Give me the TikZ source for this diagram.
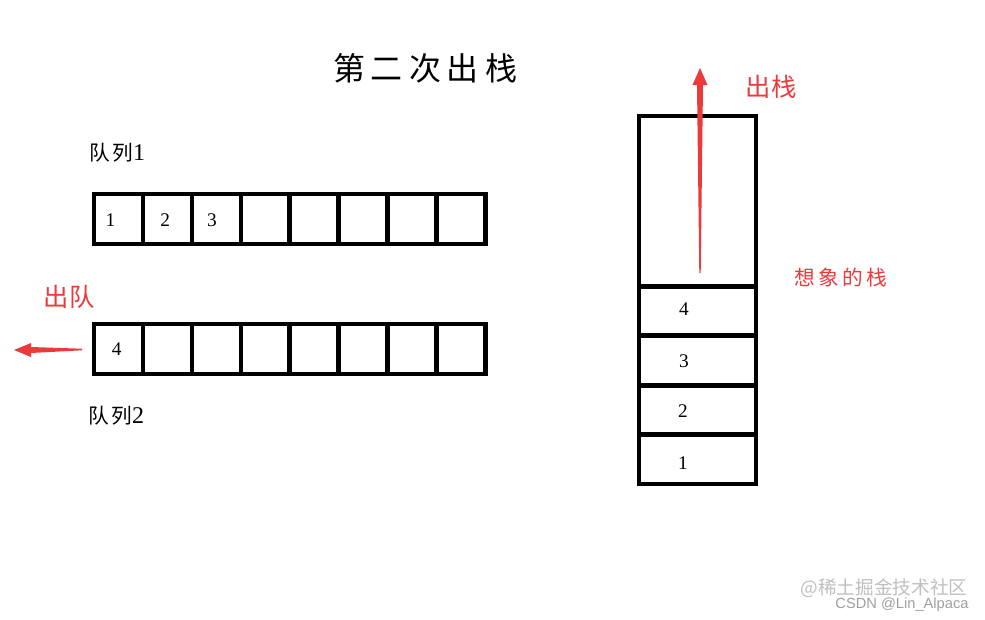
\documentclass[tikz,border=0pt]{standalone}
\usepackage{fontspec}
\setmainfont{Liberation Serif}
\newfontfamily\cjk{Noto Sans CJK SC}
\newfontfamily\wmfont{Liberation Sans}
\usetikzlibrary{positioning,calc}
\definecolor{popred}{RGB}{236,58,58}
\definecolor{markgray}{RGB}{175,175,175}
\tikzset{
  cell/.style={draw, line width=3.4pt, minimum width=36.7pt, minimum height=37.5pt, inner sep=0pt},
  stackcell/.style={draw, line width=3.4pt, minimum width=87.5pt, minimum height=37.1pt, inner sep=0pt},
  num/.style={inner sep=0pt, font=\fontsize{14.5}{14.5}\selectfont},
  redlabel/.style={inner sep=0pt, text=popred, font=\cjk\fontsize{19}{19}\selectfont},
}

\begin{document}
\begin{tikzpicture}[x=0.75pt,y=0.75pt,yscale=-1,xscale=1]
\useasboundingbox (0,0) rectangle (985,619);

% Text Node
\draw (425,68) node (title) {\cjk\fontsize{24}{24}\selectfont 第\kern4.5pt 二\kern4.5pt 次\kern4.5pt 出\kern4.5pt 栈};

% Queue 1
\draw (117,153) node (qalabel) {\cjk\fontsize{15.5}{15.5}\selectfont 队\kern2pt 列{\rmfamily\fontsize{18}{18}\selectfont 1}};
\foreach \i in {1,...,8}
  \node[cell] (qa\i) at ({94+48.94*(\i-0.5)},219) {};
\draw (110.5,220.5) node[num] (qan1) {1};
\draw (165.3,220.5) node[num] (qan2) {2};
\draw (212,220.5) node[num] (qan3) {3};

% Queue 2
\foreach \i in {1,...,8}
  \node[cell] (qb\i) at ({94+48.94*(\i-0.5)},349) {};
\draw (116.7,349.5) node[num] (qbn1) {4};
\draw (116,416) node (qblabel) {\cjk\fontsize{15.5}{15.5}\selectfont 队\kern2pt 列{\rmfamily\fontsize{18}{18}\selectfont 2}};

% Dequeue arrow
\draw (69,297) node[redlabel] (deq) {出队};
\coordinate (poptip) at (14,350);
\coordinate (poptail) at (82,349.5);
\fill[popred] (poptip) -- ($(poptip)+(17,-7)$) -- ($(poptip)+(17,-3)$) -- ($(poptail)+(0,-0.8)$)
  -- ($(poptail)+(0,0.8)$) -- ($(poptip)+(17,3)$) -- ($(poptip)+(17,7)$) -- cycle;

% Stack
\node[stackcell, minimum height=127.5pt] (stop) at (697.5,201) {};
\node[stackcell] (s4) at (697.5,311) {};
\node[stackcell] (s3) at (697.5,360.5) {};
\node[stackcell] (s2) at (697.5,409.8) {};
\node[stackcell] (s1) at (697.5,459.3) {};
\draw (684,309) node[num] (sn4) {4};
\draw (684,361) node[num] (sn3) {3};
\draw (683,411) node[num] (sn2) {2};
\draw (683,463) node[num] (sn1) {1};

% Pop arrow
\coordinate (pushtip) at (700,68);
\coordinate (pushtail) at (700,273);
\fill[popred] (pushtail) ++(-0.7,0) -- ($(pushtip)+(-3,17)$) -- ($(pushtip)+(-7.5,17)$) -- (pushtip)
  -- ($(pushtip)+(7.5,17)$) -- ($(pushtip)+(3,17)$) -- ($(pushtail)+(0.7,0)$) -- cycle;
\draw (771,87) node[redlabel] (pop) {出栈};
\draw (841,278) node[redlabel, font=\cjk\fontsize{15.5}{15.5}\selectfont] (imag) {想\kern2.5pt 象\kern2.5pt 的\kern2.5pt 栈};

% Watermark
\draw (884,588) node[inner sep=0pt, text=markgray!80] (wm1) {\cjk\fontsize{14}{14}\selectfont @稀土掘金技术社区};
\draw (902,605) node[inner sep=0pt, text=markgray!120] (wm2) {\wmfont\fontsize{11}{11}\selectfont CSDN @Lin\_Alpaca};

\end{tikzpicture}
\end{document}
